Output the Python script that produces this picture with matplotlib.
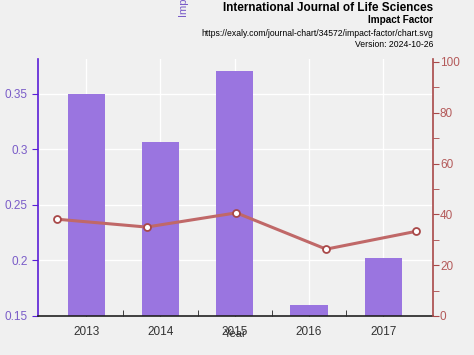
import numpy as np
import matplotlib.pyplot as plt

plt.rcParams['font.family'] = ['Liberation Sans', 'DejaVu Sans']

years = ['2013', '2014', '2015', '2016', '2017']
impact = [0.350, 0.307, 0.371, 0.160, 0.202]
second = [38.1, 35.0, 40.6, 26.3, 33.3]

bar_col = '#9a75e0'
left_col = '#5a1fd6'
left_txt = '#7a5cc8'
right_col = '#a84848'
line_col = '#c06868'
bg = '#f0f0f0'

fig = plt.figure(figsize=(4.74, 3.55), dpi=100, facecolor=bg)
ax = fig.add_axes([0.080, 0.110, 0.8335, 0.724], facecolor=bg)

x = np.arange(len(years))
ax.bar(x, impact, width=0.5, color=bar_col, zorder=2)
ax.set_xlim(-0.65, 4.67)
ax.set_ylim(0.15, 0.3815)
ax.set_yticks([0.15, 0.2, 0.25, 0.3, 0.35])
ax.set_yticklabels(['0.15', '0.2', '0.25', '0.3', '0.35'])
ax.set_xticks(x)
ax.set_xticklabels(years)
ax.set_xticks(x[:-1] + 0.5, minor=True)
ax.grid(True, color='white', linewidth=1, zorder=0)
ax.set_axisbelow(True)
for s in ['top', 'right']:
    ax.spines[s].set_visible(False)
ax.spines['left'].set_color(left_col)
ax.spines['left'].set_linewidth(1.2)
ax.spines['bottom'].set_color('#222222')
ax.spines['bottom'].set_linewidth(1.2)
ax.tick_params(axis='y', colors=left_col, labelcolor=left_txt, labelsize=8.5, length=4)
ax.tick_params(axis='x', which='both', direction='in', length=4, color='#222222',
               labelsize=8.5, labelcolor='#333333', pad=7)
ax.set_xlabel('Year', fontsize=8, color='#333333', labelpad=-6)

# secondary series on its own axes
ax2 = fig.add_axes(ax.get_position(), facecolor='none')
ax2.plot(x, second, color=line_col, linewidth=2.2, marker='o', markersize=5,
         markerfacecolor='white', markeredgecolor=right_col, markeredgewidth=1.3, zorder=3)
ax2.set_xlim(-0.21, 4.19)
ax2.set_ylim(0, 101.2)
ax2.set_xticks([])
ax2.yaxis.tick_right()
ax2.set_yticks([0, 20, 40, 60, 80, 100])
ax2.set_yticks([10, 30, 50, 70, 90], minor=True)
for s in ['top', 'left', 'bottom']:
    ax2.spines[s].set_visible(False)
ax2.spines['right'].set_color(right_col)
ax2.spines['right'].set_linewidth(1.2)
ax2.tick_params(axis='y', which='both', colors=right_col, labelcolor='#b45a5a',
                labelsize=8.5, length=4, pad=1)

fig.text(0.9135, 0.978, 'International Journal of Life Sciences', ha='right', va='center',
         fontsize=8.5, fontweight='bold', color='black')
fig.text(0.9135, 0.943, 'Impact Factor', ha='right', va='center',
         fontsize=7.2, fontweight='bold', color='black')
fig.text(0.9135, 0.907, 'https://exaly.com/journal-chart/34572/impact-factor/chart.svg',
         ha='right', va='center', fontsize=6.2, color='black')
fig.text(0.9135, 0.876, 'Version: 2024-10-26', ha='right', va='center',
         fontsize=6.2, color='black')
fig.text(0.388, 0.952, 'Impact Factor', rotation=90, ha='center', va='bottom',
         fontsize=8, color=left_txt)

fig.savefig('out.png', dpi=100, facecolor=bg)
